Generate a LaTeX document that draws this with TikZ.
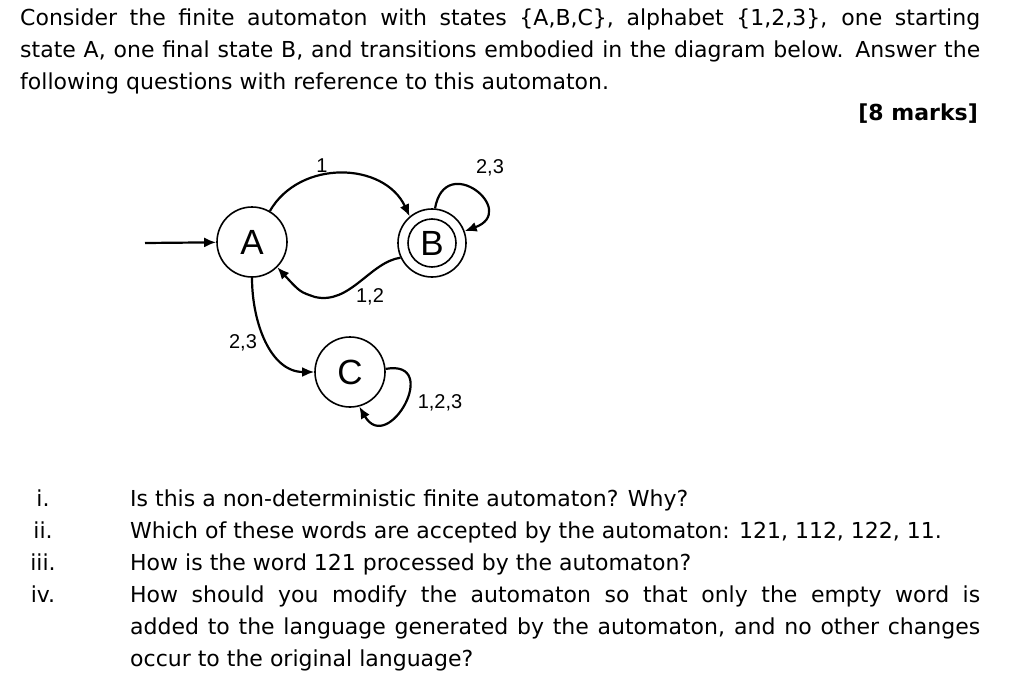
\documentclass[tikz,border=0pt]{standalone}
\usepackage{fontspec}
\setmainfont{DejaVu Sans}
\newfontfamily\diafont{Liberation Sans}
\usetikzlibrary{arrows.meta}
\begin{document}
\begin{tikzpicture}[x=1pt,y=-1pt,
  txt/.style={anchor=base west,inner sep=0pt,font=\fontsize{22}{32}\selectfont},
  jline/.style={txt,text width=#1,align=justify},
  st/.style={circle,draw,line width=1.6pt,minimum size=70pt,inner sep=0pt,font=\diafont\fontsize{35}{35}\selectfont},
  lab/.style={font=\diafont\fontsize{20}{20}\selectfont,inner sep=0pt},
  tr/.style={line width=2.2pt,-{Latex[length=12pt,width=10pt]}}]
\useasboundingbox (0,0) rectangle (1024,674);
\node[jline=960pt] (l1) at (20,26) {Consider the finite automaton with states \{A,B,C\}, alphabet \{1,2,3\}, one starting\parfillskip=0pt\par};
\node[jline=960pt] (l2) at (20,58) {state A, one final state B, and transitions embodied in the diagram below. Answer the\parfillskip=0pt\par};
\node[txt] (l3) at (20,90) {following questions with reference to this automaton.};
\node[txt,anchor=base east,font=\fontsize{22}{32}\selectfont\bfseries] (mk) at (978,121) {[8 marks]};

\node[st] (A) at (252,242) {A};
\node[st,minimum size=48pt] (B) at (432,243) {B};
\node[circle,draw,line width=1.6pt,minimum size=68pt] (Bo) at (432,243) {};
\node[st] (C) at (350,372) {C};
\coordinate (s) at (145,243);
\draw[tr] (s) -- (A);
\draw[tr] (A.60) to[out=60,in=115,looseness=1.1] (Bo.130);
\node[lab] (l1a) at (322,166) {1};
\draw[tr] (Bo.205) .. controls (370,262) and (350,305) .. (315,297) .. controls (300,292) .. (A.-45);
\node[lab] (l12) at (370,297) {1,2};
\draw[tr] (Bo.85) to[out=80,in=20,looseness=4] (Bo.20);
\node[lab] (l23) at (490,168) {2,3};
\draw[tr] (A.-90) to[out=-90,in=180] (C.west);
\node[lab] (l23b) at (243,343) {2,3};
\draw[tr] (C.5) to[out=10,in=-60,looseness=3.2] (C.-75);
\node[lab] (l123) at (440,403) {1,2,3};

\foreach \n/\y/\t in {i/506/i., ii/538/ii., iii/570/iii., iv/602/iv.}
  \node[txt,anchor=base] (n\n) at (43,\y) {\t};
\node[txt] (q1) at (130,506) {Is this a non-deterministic finite automaton? Why?};
\node[txt] (q2) at (130,538) {Which of these words are accepted by the automaton: 121, 112, 122, 11.};
\node[txt] (q3) at (130,570) {How is the word 121 processed by the automaton?};
\node[jline=850pt] (q4a) at (130,602) {How should you modify the automaton so that only the empty word is\parfillskip=0pt\par};
\node[jline=850pt] (q4b) at (130,634) {added to the language generated by the automaton, and no other changes\parfillskip=0pt\par};
\node[txt] (q4c) at (130,666) {occur to the original language?};
\end{tikzpicture}
\end{document}
